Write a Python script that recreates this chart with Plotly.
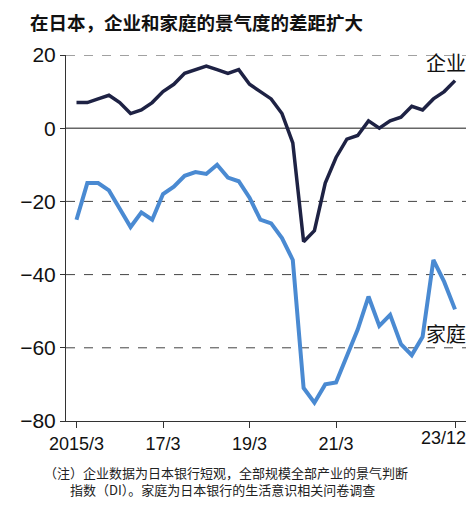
import plotly.graph_objects as go

quarters = list(range(36))
tick_pos = [0, 8, 16, 24, 35]
tick_labels = ["2015/3", "17/3", "19/3", "21/3", "23/12"]

enterprise = [7, 7, 8, 9, 7, 4, 5, 7, 10, 12, 15, 16, 17, 16, 15, 16, 12, 10, 8, 4,
              -4, -31, -28, -15, -8, -3, -2, 2, 0, 2, 3, 6, 5, 8, 10, 13]
household = [-25, -15, -15, -17, -22, -27, -23, -25, -18, -16, -13, -12, -12.5, -10,
             -13.5, -14.5, -19, -25, -26, -30, -36, -71, -75, -70, -69.5, -62, -55,
             -46, -54, -51, -59, -62, -57, -36, -42, -49.5]

font = "Noto Sans CJK SC"
fig = go.Figure()
fig.add_trace(go.Scatter(x=quarters, y=household, mode="lines",
                         line=dict(color="#4a8ad2", width=4)))
fig.add_trace(go.Scatter(x=quarters, y=enterprise, mode="lines",
                         line=dict(color="#1e2244", width=3.5)))

for y in [20, -20, -40, -60]:
    fig.add_hline(y=y, line=dict(color="#444", width=1, dash="dash"), layer="below")
fig.add_hline(y=0, line=dict(color="#666", width=1.5), layer="below")

fig.add_annotation(x=1.0, y=18, xref="paper", yref="y", text="企业", showarrow=False,
                   xanchor="right", font=dict(size=20, color="#111", family=font))
fig.add_annotation(x=1.0, y=-56, xref="paper", yref="y", text="家庭", showarrow=False,
                   xanchor="right", font=dict(size=20, color="#111", family=font))
fig.add_annotation(x=-0.095, y=1.09, xref="paper", yref="paper", yanchor="middle",
                   text="<b>在日本，企业和家庭的景气度的差距扩大</b>", showarrow=False,
                   xanchor="left", font=dict(size=18.5, color="#111", family=font))
fig.add_annotation(x=-0.06, y=-0.11, xref="paper", yref="paper", yanchor="top",
                   align="left", xanchor="left", showarrow=False,
                   text="（注）企业数据为日本银行短观，全部规模全部产业的景气判断<br>　　指数（DI）。家庭为日本银行的生活意识相关问卷调查",
                   font=dict(size=13, color="#222", family=font))
# last tick label placed by hand so it stays inside the page
fig.add_annotation(x=1.0, y=-0.015, xref="paper", yref="paper", yanchor="top",
                   xanchor="right", showarrow=False, text=tick_labels[-1],
                   font=dict(size=18, color="#111"))

fig.update_layout(
    width=474, height=506, showlegend=False,
    paper_bgcolor="white", plot_bgcolor="white",
    margin=dict(l=45, r=14, t=47, b=93),
    font=dict(family="Liberation Sans Narrow, Liberation Sans", size=19, color="#111"),
)
fig.update_xaxes(range=[-0.97, 36.2], tickvals=tick_pos, ticktext=tick_labels[:-1] + [""],
                 showgrid=False, zeroline=False, showline=True, linecolor="#333",
                 ticks="outside", ticklen=6, tickcolor="#333", tickfont=dict(size=18))
fig.update_yaxes(range=[-80, 20], tickvals=[20, 0, -20, -40, -60, -80],
                 showgrid=False, zeroline=False, showline=True, linecolor="#333",
                 ticks="outside", ticklen=5, tickcolor="#333", tickfont=dict(size=21))

fig.write_html("out.html")
